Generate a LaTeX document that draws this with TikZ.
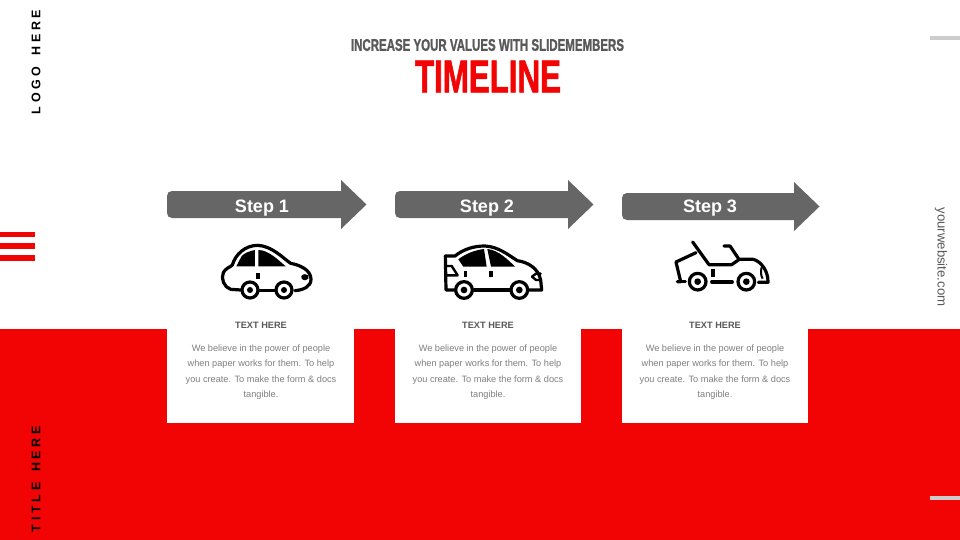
\documentclass[tikz,border=0pt]{standalone}
\usepackage{fontspec}
\setmainfont{Liberation Sans}
\newfontfamily\headfont[FakeStretch=0.68,BoldFeatures={FakeBold=1.2}]{Liberation Sans}
\usepackage{xcolor}
\usepackage{tikz}
\definecolor{slidered}{HTML}{F20404}
\definecolor{arrowgrey}{HTML}{666666}
\definecolor{bargrey}{HTML}{CCCCCC}
\definecolor{bodygrey}{HTML}{7F7F7F}
\definecolor{headgrey}{HTML}{595959}
\tikzset{
	steplabel/.style={text=white,font=\fontsize{18}{20}\selectfont\bfseries},
	cardhead/.style={text=headgrey,font=\fontsize{9.2}{11}\selectfont\bfseries},
	cardbody/.style={text=bodygrey,align=center,font=\fontsize{9.2}{15.4}\selectfont},
	sidelabel/.style={font=\fontsize{12.5}{14}\selectfont\bfseries},
	carline/.style={line width=3.2pt,line join=round,line cap=round},
}
\newcommand{\cardtext}{We believe in the power of people\\when paper works for them. To help\\you create. To make the form \& docs\\tangible.}
\newcommand{\gp}{\kern3.7pt}
\begin{document}
\begin{tikzpicture}[x=1pt,y=-1pt]
		\useasboundingbox (0,0) rectangle (960,540);
		\fill[white] (0,0) rectangle (960,540);
		\fill[slidered] (0,329) rectangle (960,540);
		%
		\node[text=headgrey,font=\headfont\fontsize{16.9}{20}\selectfont\bfseries] (subtitle) at (487.5,45) {INCREASE YOUR VALUES WITH SLIDEMEMBERS};
		\node[text=slidered,font=\headfont\fontsize{46}{50}\selectfont\bfseries] (title) at (488,76.5) {TIMELINE};
		%
		\node[sidelabel,rotate=90] (logo) at (36,62) {L\gp O\gp G\gp O\gp\ \ H\gp E\gp R\gp E};
		\node[sidelabel,rotate=90] (pagetitle) at (36,479) {T\gp I\gp T\gp L\gp E\gp\ \ H\gp E\gp R\gp E};
		\node[text=headgrey,rotate=-90,font=\fontsize{13.2}{15}\selectfont] (site) at (941,257) {yourwebsite.com};
		%
		\fill[slidered] (0,232) rectangle (35,237);
		\fill[slidered] (0,243) rectangle (35,249);
		\fill[slidered] (0,255) rectangle (35,261);
		\fill[bargrey] (930,36) rectangle (960,40);
		\fill[bargrey] (930,496) rectangle (960,500);
		%
		\fill[arrowgrey] (172,191) -- (341,191) -- (341,180) -- (366.5,204.5) -- (341,229) -- (341,218) -- (172,218) .. controls (169,218) and (167,216) .. (167,213) -- (167,196) .. controls (167,193) and (169,191) .. (172,191) -- cycle;
		\fill[arrowgrey] (400,191) -- (568,191) -- (568,180) -- (593.5,204.5) -- (568,229) -- (568,218) -- (400,218) .. controls (397,218) and (395,216) .. (395,213) -- (395,196) .. controls (395,193) and (397,191) .. (400,191) -- cycle;
		\fill[arrowgrey] (627,193) -- (794,193) -- (794,182) -- (819.5,206.5) -- (794,231) -- (794,220) -- (627,220) .. controls (624,220) and (622,218) .. (622,215) -- (622,198) .. controls (622,195) and (624,193) .. (627,193) -- cycle;
		\node[steplabel] (step1) at (262,208.5) {Step 1};
		\node[steplabel] (step2) at (487,208.5) {Step 2};
		\node[steplabel] (step3) at (710,208.5) {Step 3};
		%
		\fill[white] (167,329) rectangle (354,423);
		\fill[white] (395,329) rectangle (581,423);
		\fill[white] (622,329) rectangle (808,423);
		\node[cardhead] (head1) at (261,325) {TEXT HERE};
		\node[cardhead] (head2) at (488,325) {TEXT HERE};
		\node[cardhead] (head3) at (715,325) {TEXT HERE};
		\node[cardbody] (body1) at (261,372) {\cardtext};
		\node[cardbody] (body2) at (488,372) {\cardtext};
		\node[cardbody] (body3) at (715,372) {\cardtext};
		%
		% first car
		\begin{scope}[shift={(200,230)},x=0.3333pt,y=-0.3333pt]
		\draw[carline] (122,180) -- (92,178) .. controls (72,172) and (62,145) .. (70,128) .. controls (76,115) and (90,112) .. (97,105) .. controls (107,72) and (135,47) .. (172,46) .. controls (215,47) and (250,85) .. (272,100) .. controls (300,105) and (333,120) .. (333,148) .. controls (333,170) and (310,180) .. (285,182);
		\draw[carline] (178,182) -- (225,182);
		\draw[carline] (150,180) circle (24);
		\draw[carline] (252,180) circle (24);
		\fill (150,180) circle (9);
		\fill (252,180) circle (9);
		\fill (109,109) -- (125,78) .. controls (135,68) and (150,63) .. (165,60) -- (165,109) -- cycle;
		\fill (175,60) .. controls (205,60) and (235,90) .. (257,109) -- (175,109) -- cycle;
		\fill (169,130) rectangle (179,148);
		\fill (325,146) .. controls (315,155) and (302,150) .. (304,138) .. controls (310,130) and (320,132) .. (325,136) -- cycle;
		\end{scope}
		%
		% second car
		\begin{scope}[shift={(430,230)},x=0.3333pt,y=-0.3333pt]
		\draw[carline] (75,180) -- (48,180) -- (46,78) -- (75,78) .. controls (100,58) and (130,48) .. (165,48) .. controls (205,50) and (235,75) .. (262,92) .. controls (295,97) and (325,115) .. (332,150) -- (335,180) -- (295,180);
		\draw[carline] (132,180) -- (240,180);
		\draw[carline] (102,180) circle (25);
		\draw[carline] (268,180) circle (25);
		\fill (102,180) circle (10);
		\fill (268,180) circle (10);
		\fill (85,88) .. controls (105,72) and (135,60) .. (162,57) -- (170,110) -- (100,110) -- cycle;
		\fill (172,57) .. controls (205,60) and (235,90) .. (255,110) -- (183,110) -- cycle;
		\fill (103,123) rectangle (112,142);
		\fill (178,123) rectangle (188,142);
		\draw[carline,line width=2.4pt] (50,108) -- (65,108) -- (83,136) -- (50,136);
		\draw[carline,line width=2.4pt] (306,140) -- (318,131) -- (332,131);
		\draw[carline,line width=2.4pt] (306,140) -- (318,150) -- (332,150);
		\end{scope}
		%
		% third car
		\begin{scope}[shift={(660,230)},x=0.3333pt,y=-0.3333pt]
		\draw[carline] (98,36) -- (147,104) -- (215,104) -- (238,88) -- (280,88) .. controls (305,95) and (325,125) .. (324,157) -- (295,157);
		\draw[carline] (108,68) -- (48,96) -- (62,155) -- (52,155);
		\draw[carline] (62,155) -- (76,155);
		\draw[carline] (155,156) -- (217,156);
		\draw[carline] (192,48) -- (210,48) -- (235,85);
		\draw[carline] (113,155) circle (25);
		\draw[carline] (259,155) circle (25);
		\fill (113,155) circle (10);
		\fill (259,155) circle (10);
		\fill (153,116) rectangle (165,142);
		\draw[line width=2pt] (305,112) .. controls (302,122) and (302,138) .. (308,146);
		\end{scope}
		\end{tikzpicture}
\end{document}
